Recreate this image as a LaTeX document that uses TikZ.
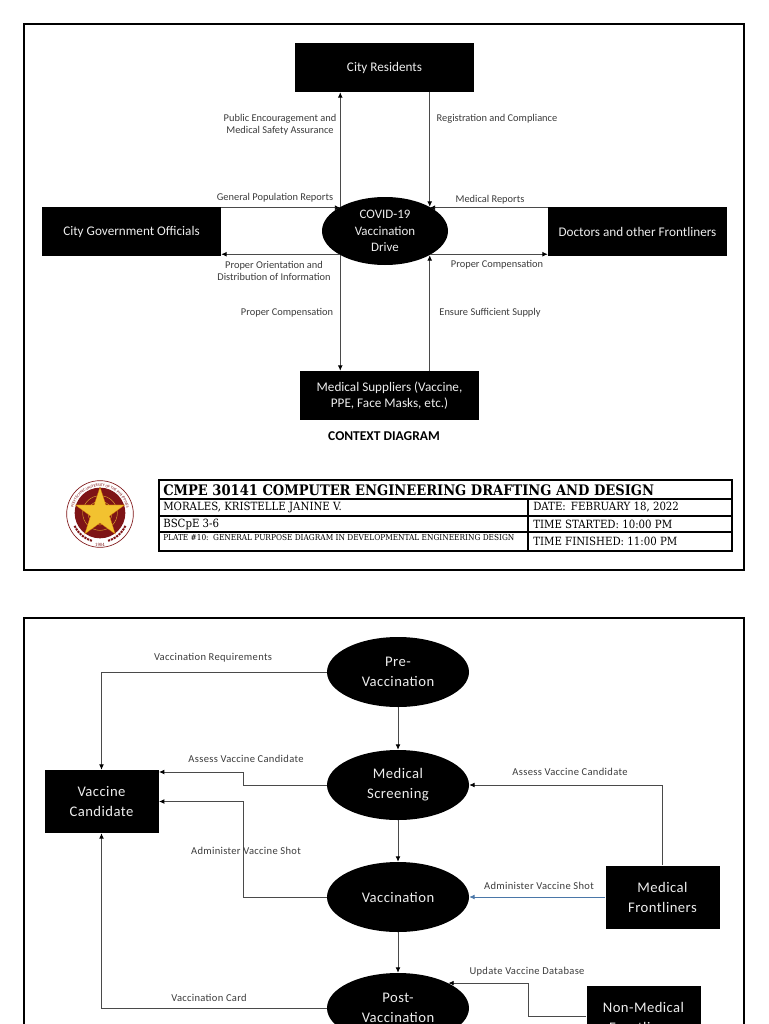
\documentclass[tikz,border=0pt]{standalone}
\usepackage{fontspec}
\setmainfont{Carlito}
\newfontfamily\lowfont[LetterSpace=3]{Carlito}
\newfontfamily\slabfont{DejaVu Serif Condensed}
\usetikzlibrary{shapes.geometric,arrows.meta,decorations.text}
\definecolor{sealred}{HTML}{7E1416}
\definecolor{sealgold}{HTML}{F2C230}
\definecolor{linegray}{HTML}{4A4A4A}
\definecolor{textgray}{HTML}{3C3C3C}
\definecolor{softwhite}{HTML}{EDEDED}
\definecolor{bluearrow}{HTML}{4A77A8}
\tikzset{
  frameline/.style={draw=black,line width=1.5pt},
  blackbox/.style={rectangle,fill=black,text=softwhite,inner sep=0pt,align=center,font=\fontsize{9.9}{12}\selectfont},
  topbox/.style={blackbox,minimum width=134.25pt,minimum height=36.75pt},
  lowbox/.style={blackbox,minimum width=85.5pt,minimum height=47.25pt,font=\lowfont\fontsize{11}{15}\selectfont},
  drivenode/.style={ellipse,fill=black,text=softwhite,inner sep=0pt,align=center,minimum width=94.5pt,minimum height=51pt,font=\fontsize{9.7}{12.2}\selectfont},
  stagenode/.style={ellipse,fill=black,text=softwhite,inner sep=0pt,align=center,minimum width=106.5pt,minimum height=52.5pt,font=\lowfont\fontsize{11}{15}\selectfont},
  arr/.style={draw=linegray,line width=0.6pt,-{Latex[length=4pt,width=3.6pt,color=black]}},
  bluearr/.style={draw=bluearrow,line width=0.6pt,-{Latex[length=4pt,width=3.6pt,color=bluearrow]}},
  toplabel/.style={text=textgray,inner sep=0pt,align=center,font=\fontsize{7.8}{9.2}\selectfont},
  lowlabel/.style={text=textgray,inner sep=0pt,align=center,font=\lowfont\fontsize{7.9}{9}\selectfont},
  cell/.style={draw=black,line width=1.1pt,fill=none},
  celltext/.style={anchor=west,inner sep=0pt,text=black,font=\slabfont\fontsize{8.5}{9}\selectfont},
}
\begin{document}
\begin{tikzpicture}[x=0.75pt,y=-0.75pt]
\clip (0,0) rectangle (768,1024);
\fill[white] (0,0) rectangle (768,1024);
\draw[frameline] (24,24) rectangle (744,570);
\draw[frameline] (24,618) rectangle (744,1060);

% --- context diagram
\node[topbox] (res) at (384.5,67.5) {City Residents};
\node[topbox] (gov) at (131.5,231.5) {City Government Officials};
\node[topbox] (doc) at (637.5,231.5) {Doctors and other Frontliners};
\node[topbox] (sup) at (389.5,395.5) {Medical Suppliers (Vaccine,\\PPE, Face Masks, etc.)};
\node[drivenode] (drive) at (385,231) {COVID-19\\Vaccination\\Drive};

\draw[arr] (drive.north west) -- (drive.north west |- res.south);
\draw[arr] (res.south -| drive.north east) -- (drive.north east);
\draw[arr] (drive.south west) -- (drive.south west |- sup.north);
\draw[arr] (sup.north -| drive.south east) -- (drive.south east);
\draw[arr] (gov.north east) ++(0,1) coordinate (g1) -- (g1 -| drive.north west);
\draw[arr] (doc.north west) ++(0,1) coordinate (d1) -- (d1 -| drive.north east);
\draw[arr] (drive.south west) ++(0,-1) coordinate (g2) -- (g2 -| gov.east);
\draw[arr] (drive.south east) ++(0,-1) coordinate (d2) -- (d2 -| doc.west);

\node[toplabel] (l1) at (280,125) {Public Encouragement and\\Medical Safety Assurance};
\node[toplabel] (l2) at (497,118.5) {Registration and Compliance};
\node[toplabel] (l3) at (275,198) {General Population Reports};
\node[toplabel] (l4) at (490,199.5) {Medical Reports};
\node[toplabel] (l5) at (274,271) {Proper Orientation and\\Distribution of Information};
\node[toplabel] (l6) at (497,264.5) {Proper Compensation};
\node[toplabel] (l7) at (287,312.5) {Proper Compensation};
\node[toplabel] (l8) at (490,312.5) {Ensure Sufficient Supply};
\node[inner sep=0pt,text=black,font=\bfseries\fontsize{10.1}{10}\selectfont] (ctx) at (384,436) {CONTEXT DIAGRAM};

% --- seal
\node[circle,fill=white,draw=sealred,line width=0.5pt,minimum size=50pt,inner sep=0pt] (seal) at (100,514) {};
\node[circle,fill=sealred,minimum size=38pt,inner sep=0pt] (sealin) at (100,513) {};
\draw[sealgold,line width=0.25pt] (sealin.center) circle[radius=13pt];
\draw[sealgold,line width=0.25pt] (sealin.center) circle[radius=9pt];
\node[star,star points=5,star point ratio=2.6,fill=sealgold,draw=orange!80!black,line width=0.2pt,minimum size=39pt,inner sep=0pt] (sealstar) at (100,513) {};
\path[decorate,decoration={text along path,text align=center,text={|\fontsize{2.9}{3}\selectfont\color{sealred}|POLYTECHNIC UNIVERSITY OF THE PHILIPPINES}}]
  ([shift={(215:20.5pt)}]seal.center) arc[start angle=215,end angle=-35,radius=20.5pt];
\draw[sealred,line width=1.5pt,dash pattern=on 1.6pt off 0.7pt] ([shift={(205:21pt)}]seal.center) arc[start angle=205,end angle=255,radius=21pt];
\draw[sealred,line width=1.5pt,dash pattern=on 1.6pt off 0.7pt] ([shift={(335:21pt)}]seal.center) arc[start angle=335,end angle=285,radius=21pt];
\node[inner sep=0pt,text=sealred,font=\slabfont\fontsize{3.2}{4}\selectfont] (sealyear) at (100,545) {1904};

% --- title block
\draw[cell] (159,480) rectangle (732,551);
\draw[cell] (159,499) -- (732,499);
\draw[cell] (159,516) -- (732,516);
\draw[cell] (159,532) -- (732,532);
\draw[cell] (528,499) -- (528,551);
\node[celltext,font=\slabfont\bfseries\fontsize{10.9}{12}\selectfont] (t0) at (163,490) {CMPE 30141 COMPUTER ENGINEERING DRAFTING AND DESIGN};
\node[celltext] (t1) at (163,507.5) {MORALES, KRISTELLE JANINE V.};
\node[celltext] (t2) at (163,524) {BSCpE 3-6};
\node[celltext,font=\slabfont\fontsize{6.15}{7}\selectfont] (t3) at (163,538) {PLATE \#10:\, GENERAL PURPOSE DIAGRAM IN DEVELOPMENTAL ENGINEERING DESIGN};
\node[celltext] (t4) at (533,507.5) {DATE:\, FEBRUARY 18, 2022};
\node[celltext] (t5) at (533,524) {TIME STARTED: 10:00 PM};
\node[celltext] (t6) at (533,541) {TIME FINISHED: 11:00 PM};

% --- second diagram
\node[stagenode] (pre) at (398,672) {Pre-\\Vaccination};
\node[stagenode] (scr) at (398,785) {Medical\\Screening};
\node[stagenode] (vac) at (398,897) {Vaccination};
\node[stagenode] (post) at (398,1008) {Post-\\Vaccination};
\node[lowbox] (cand) at (101.5,801.5) {Vaccine\\Candidate};
\node[lowbox] (med) at (662.5,897) {Medical\\Frontliners};
\node[lowbox] (non) at (643.5,1017) {Non-Medical\\Frontliners};

\draw[arr] (pre) -- (scr);
\draw[arr] (scr) -- (vac);
\draw[arr] (vac) -- (post);
\coordinate (ca1) at (159,772);
\coordinate (ca2) at (159,801.5);
\coordinate (by) at (243,785);
\draw[arr] (pre.west) -| (cand.north);
\draw[arr] (scr.west) -- (scr.west -| by) |- (ca1);
\draw[arr] (vac.west) -- (vac.west -| by) |- (ca2);
\draw[arr] (post.west) -| (cand.south);
\draw[arr] (med.north) |- (scr.east);
\draw[bluearr] (med.west) -- (vac.east);
\coordinate (nb) at (528,1016);
\draw[arr] (non.west |- nb) -- (nb) |- (post.north east);

\node[lowlabel] (m1) at (213,658) {Vaccination Requirements};
\node[lowlabel] (m2) at (246,759) {Assess Vaccine Candidate};
\node[lowlabel] (m3) at (570,772) {Assess Vaccine Candidate};
\node[lowlabel] (m4) at (246,851) {Administer Vaccine Shot};
\node[lowlabel] (m5) at (539,886) {Administer Vaccine Shot};
\node[lowlabel] (m6) at (209,998) {Vaccination Card};
\node[lowlabel] (m7) at (527,972) {Update Vaccine Database};
\end{tikzpicture}
\end{document}
